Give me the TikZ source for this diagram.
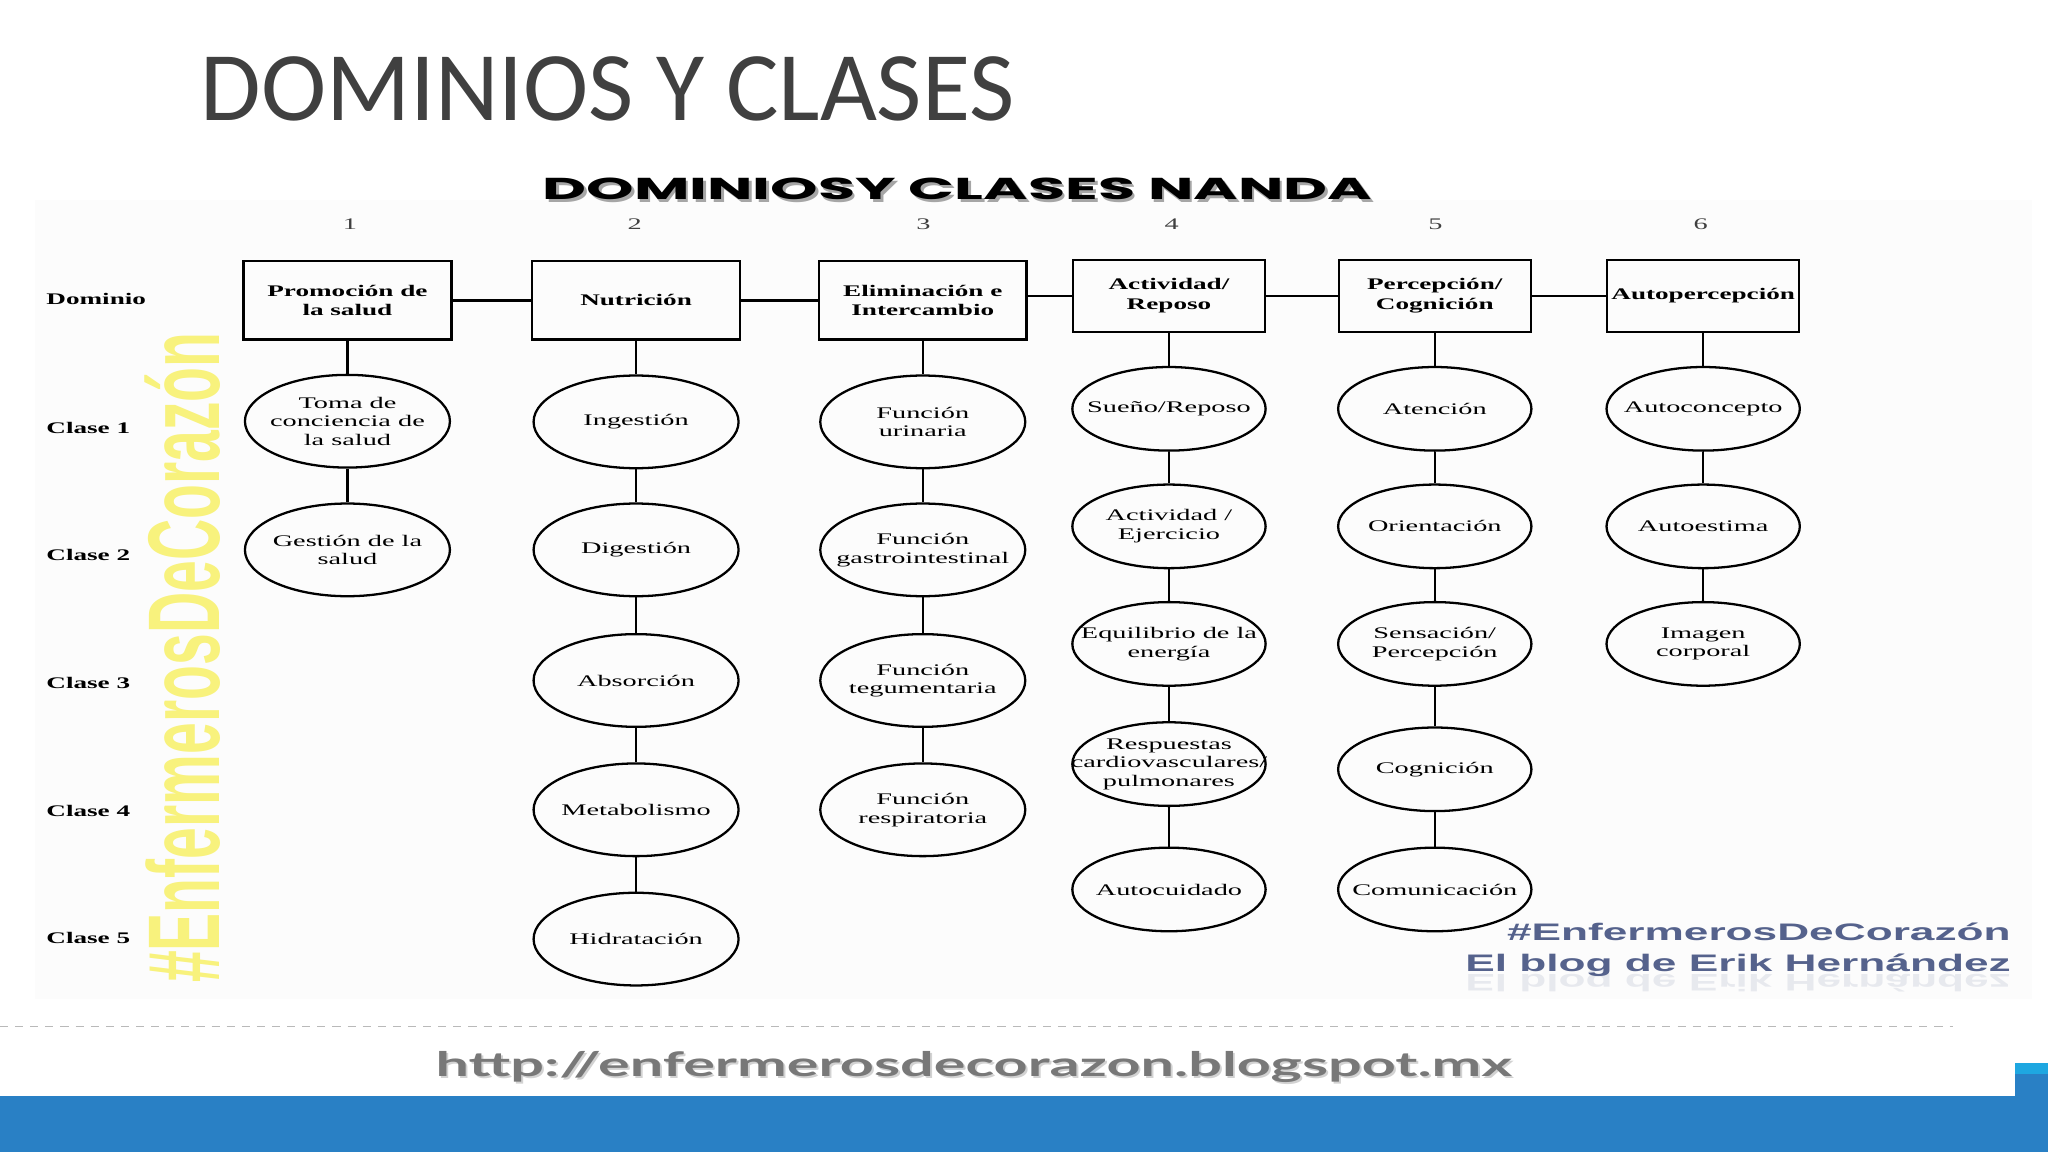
\documentclass[tikz,border=0pt]{standalone}
\usepackage{fontspec}
\usepackage{graphicx}
\usetikzlibrary{shapes.geometric}

\newfontfamily\titlefont{Carlito}
\newfontfamily\headfont{Poppins}[FakeStretch=2.0]
\newfontfamily\diagrm{Liberation Serif}[FakeStretch=1.75]
\newfontfamily\diagbf{Liberation Serif}[FakeStretch=1.68]
\newfontfamily\marksans{Liberation Sans}[FakeStretch=0.56]
\newfontfamily\blogsans{Liberation Sans}[FakeStretch=1.85]
\newfontfamily\urlsans{Lato}[FakeStretch=1.76]

\definecolor{barblue}{RGB}{41,128,197}
\definecolor{stripblue}{RGB}{30,167,225}
\definecolor{markyellow}{RGB}{248,242,125}
\definecolor{blogblue}{RGB}{85,98,140}
\definecolor{titlegray}{RGB}{64,64,64}
\definecolor{urlgray}{RGB}{120,120,120}

\begin{document}
\begin{tikzpicture}[x=0.01306cm,y=-0.01306cm,font=\fontsize{4.6}{5.3}\diagrm,
  dom/.style={draw,line width=.7pt,minimum width=2.077cm,minimum height=.784cm,
    inner sep=0pt,align=center,font=\fontsize{4.6}{5.6}\diagbf\bfseries},
  doms/.style={dom,minimum width=1.92cm,minimum height=.718cm},
  cls/.style={ellipse,draw,line width=.65pt,minimum width=2.05cm,minimum height=.927cm,
    inner xsep=-10pt,inner ysep=0pt,align=center},
  clss/.style={cls,minimum width=1.933cm,minimum height=.836cm},
  link/.style={line width=.65pt},
  rowlab/.style={anchor=base west,inner sep=0pt,font=\fontsize{4.6}{5.3}\diagbf\bfseries},
  num/.style={anchor=base,inner sep=0pt,black!75}]

\useasboundingbox (0,0) rectangle (1568,882);
\fill[black!1] (27,153) rectangle (1556,765);

% titles
\node[anchor=base west,inner sep=0pt,font=\fontsize{28}{32}\titlefont,titlegray] (title) at (153,92) {DOMINIOS Y CLASES};
\node[anchor=base,inner sep=0pt,font=\fontsize{8.6}{10}\headfont\bfseries,black!35] (subshadow) at (735,155) {DOMINIOSY CLASES NANDA};
\node[anchor=base,inner sep=0pt,font=\fontsize{8.6}{10}\headfont\bfseries] (subtitle) at (733,152.5) {DOMINIOSY CLASES NANDA};

\node[rotate=90,anchor=base west,inner sep=0pt,font=\fontsize{29}{30}\marksans\bfseries,markyellow] (mark) at (168,753) {\#EnfermerosDeCorazón};

\node[num] (n1) at (268,176) {1};
\node[num] (n2) at (486,176) {2};
\node[num] (n3) at (707,176) {3};
\node[num] (n4) at (897,176) {4};
\node[num] (n5) at (1099,176) {5};
\node[num] (n6) at (1302,176) {6};

\node[rowlab] (rdom) at (35,233) {Dominio};
\node[rowlab] (r1) at (35,332) {Clase 1};
\node[rowlab] (r2) at (35,429) {Clase 2};
\node[rowlab] (r3) at (35,527) {Clase 3};
\node[rowlab] (r4) at (35,625) {Clase 4};
\node[rowlab] (r5) at (35,722) {Clase 5};

% dominios
\node[dom] (d1) at (266,230) {Promoción de\\la salud};
\node[dom] (d2) at (487,230) {Nutrición};
\node[dom] (d3) at (706.5,230) {Eliminación e\\Intercambio};
\node[doms] (d4) at (895,226.5) {Actividad/\\Reposo};
\node[doms] (d5) at (1098.5,226.5) {Percepción/\\Cognición};
\node[doms] (d6) at (1304,226.5) {Autopercepción};

% clases
\node[cls] (k11) at (266,322.5) {Toma de\\conciencia de\\la salud};
\node[cls] (k12) at (266,421) {Gestión de la\\salud};

\node[cls] (k21) at (487,323) {Ingestión};
\node[cls] (k22) at (487,421) {Digestión};
\node[cls] (k23) at (487,521) {Absorción};
\node[cls] (k24) at (487,620) {Metabolismo};
\node[cls] (k25) at (487,719) {Hidratación};

\node[cls] (k31) at (706.5,323) {Función\\urinaria};
\node[cls] (k32) at (706.5,421) {Función\\gastrointestinal};
\node[cls] (k33) at (706.5,521) {Función\\tegumentaria};
\node[cls] (k34) at (706.5,620) {Función\\respiratoria};

\node[clss] (k41) at (895,313) {Sueño/Reposo};
\node[clss] (k42) at (895,403) {Actividad /\\Ejercicio};
\node[clss] (k43) at (895,493) {Equilibrio de la\\energía};
\node[clss] (k44) at (895,585) {Respuestas\\cardiovasculares/\\pulmonares};
\node[clss] (k45) at (895,681) {Autocuidado};

\node[clss] (k51) at (1098.5,313) {Atención};
\node[clss] (k52) at (1098.5,403) {Orientación};
\node[clss] (k53) at (1098.5,493) {Sensación/\\Percepción};
\node[clss] (k54) at (1098.5,589) {Cognición};
\node[clss] (k55) at (1098.5,681) {Comunicación};

\node[clss] (k61) at (1304,313) {Autoconcepto};
\node[clss] (k62) at (1304,403) {Autoestima};
\node[clss] (k63) at (1304,493) {Imagen\\corporal};

\draw[link] (d1) -- (d2) -- (d3);
\draw[link] (d3.east |- d4) -- (d4) -- (d5) -- (d6);
\draw[link] (d1) -- (k11) -- (k12);
\draw[link] (d2) -- (k21) -- (k22) -- (k23) -- (k24) -- (k25);
\draw[link] (d3) -- (k31) -- (k32) -- (k33) -- (k34);
\draw[link] (d4) -- (k41) -- (k42) -- (k43) -- (k44) -- (k45);
\draw[link] (d5) -- (k51) -- (k52) -- (k53) -- (k54) -- (k55);
\draw[link] (d6) -- (k61) -- (k62) -- (k63);

% firma
\node[anchor=base east,inner sep=0pt,font=\fontsize{6.8}{8}\blogsans\bfseries,blogblue] (tag) at (1540,720) {\#EnfermerosDeCorazón};
\node[anchor=base east,inner sep=0pt,font=\fontsize{6.8}{8}\blogsans\bfseries,blogblue] (blog) at (1540,743.5) {El blog de Erik Hernández};
\node[anchor=base east,inner sep=0pt,font=\fontsize{6.8}{8}\blogsans\bfseries,blogblue,opacity=.12] (blogref) at (1540,746) {\scalebox{1}[-1]{El blog de Erik Hernández}};

% pie
\draw[gray!55,line width=.4pt,dash pattern=on 2.3pt off 2pt] (0,786) -- (1495,786);
\node[anchor=base,inner sep=0pt,font=\fontsize{9.6}{11}\urlsans\bfseries,gray!35] (urlshadow) at (747,826) {http://enfermerosdecorazon.blogspot.mx};
\node[anchor=base,inner sep=0pt,font=\fontsize{9.6}{11}\urlsans\bfseries,urlgray] (url) at (745.5,824) {http://enfermerosdecorazon.blogspot.mx};

\fill[barblue] (0,839) rectangle (1543,882);
\fill[barblue] (1543,822) rectangle (1568,882);
\fill[stripblue] (1543,814) rectangle (1568,822);

\end{tikzpicture}
\end{document}
